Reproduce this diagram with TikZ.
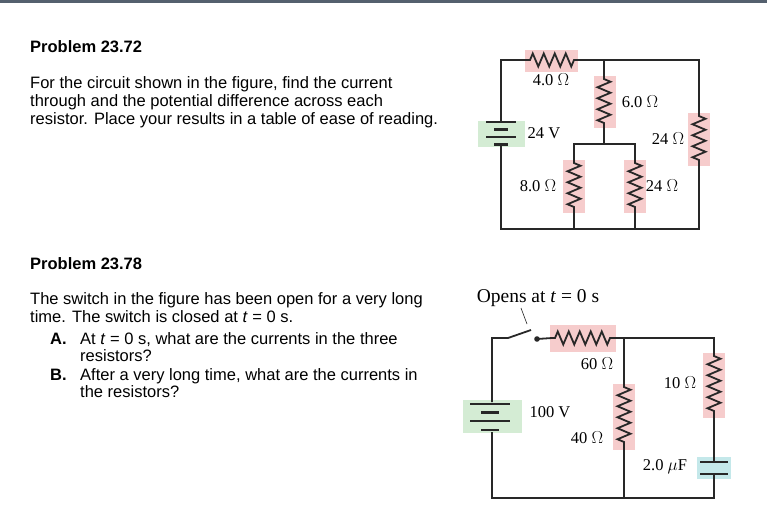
\documentclass[tikz,border=0pt]{standalone}
\usepackage{fontspec}
\setmainfont{Liberation Sans}
\newfontfamily\serif{Liberation Serif}
\usetikzlibrary{decorations.pathmorphing}
\definecolor{rpink}{RGB}{246,204,204}
\definecolor{bgreen}{RGB}{212,236,212}
\definecolor{ccyan}{RGB}{196,232,234}
\definecolor{topbar}{RGB}{84,96,110}
\definecolor{wire}{RGB}{40,40,40}
\begin{document}
\begin{tikzpicture}[x=1pt,y=-1pt,
  w/.style={draw=wire,line width=1.8},
  zz/.style={w,decorate,decoration={zigzag,segment length=11,amplitude=6.5,pre length=3,post length=3}},
  pbox/.style={fill=rpink,draw=none},
  lbl/.style={font=\serif\fontsize{16.5}{16.5}\selectfont,inner sep=0},
  txt/.style={font=\fontsize{16.5}{19}\selectfont,anchor=base west,inner sep=0},
  btxt/.style={txt,font=\bfseries\fontsize{16.5}{19}\selectfont}]
\useasboundingbox (0,0) rectangle (767,530);
\fill[white] (0,0) rectangle (767,530);
\fill[topbar] (0,0) rectangle (767,3);
% texts
\node[btxt] (p1) at (30,52) {Problem 23.72};
\node[txt] (t1) at (30,88) {For the circuit shown in the figure, find the current};
\node[txt] (t2) at (30,106) {through and the potential difference across each};
\node[txt] (t3) at (30,124) {resistor. Place your results in a table of ease of reading.};
\node[btxt] (p2) at (30,269) {Problem 23.78};
\node[txt] (t4) at (30,304) {The switch in the figure has been open for a very long};
\node[txt] (t5) at (30,322) {time. The switch is closed at \textit{t} = 0 s.};
\node[btxt] (a) at (50,344) {A.};
\node[txt] (t6) at (80,344) {At \textit{t} = 0 s, what are the currents in the three};
\node[txt] (t7) at (80,361) {resistors?};
\node[btxt] (b) at (50,380) {B.};
\node[txt] (t8) at (80,380) {After a very long time, what are the currents in};
\node[txt] (t9) at (80,397) {the resistors?};
% ---------- top circuit
\fill[pbox] (525,50) rectangle (578,72);
\fill[pbox] (594,76) rectangle (616,128);
\fill[pbox] (563,160) rectangle (585,213);
\fill[pbox] (624,160) rectangle (646,213);
\fill[pbox] (688,113) rectangle (710,166);
\fill[bgreen] (478,121) rectangle (525,147);
\draw[w] (501,121) -- (501,60) -- (527,60);
\draw[zz] (527,60) -- (578,60);
\draw[w] (578,60) -- (699,60) -- (699,113);
\draw[zz] (699,113) -- (699,166);
\draw[w] (699,166) -- (699,229) -- (501,229) -- (501,146);
\draw[w] (604,60) -- (604,76);
\draw[zz] (604,76) -- (604,128);
\draw[w] (604,128) -- (604,144) (574,160) -- (574,144) -- (635,144) -- (635,160);
\draw[zz] (574,160) -- (574,213);
\draw[zz] (635,160) -- (635,213);
\draw[w] (574,213) -- (574,229) (635,213) -- (635,229);
\draw[w] (486,122) -- (516,122) (486,137) -- (516,137);
\draw[w,line width=2.2] (494,129.5) -- (508,129.5) (494,144.5) -- (508,144.5);
\node[lbl] (l1) at (551,80) {4.0 $\Omega$};
\node[lbl] (l2) at (640,102) {6.0 $\Omega$};
\node[lbl] (l3) at (544,133) {24 V};
\node[lbl] (l4) at (668,139) {24 $\Omega$};
\node[lbl] (l5) at (538,186) {8.0 $\Omega$};
\node[lbl] (l6) at (662,186) {24 $\Omega$};
% ---------- bottom circuit
\fill[pbox] (550,325) rectangle (616,352);
\fill[pbox] (613,384) rectangle (635,450);
\fill[pbox] (703,353) rectangle (725,418);
\fill[ccyan] (697,457) rectangle (731,479);
\fill[bgreen] (463,400) rectangle (522,433);
\coordinate (sw) at (537,339);
\draw[w] (492,402) -- (492,338) -- (508,338) -- (531,330);
\fill[wire] (sw) circle (2.8);
\draw[w] (sw) -- (552,338);
\draw[zz] (552,338) -- (616,338);
\draw[w] (616,338) -- (714,338) -- (714,353);
\draw[zz] (714,353) -- (714,418);
\draw[w] (714,418) -- (714,462) (714,474) -- (714,498) -- (492,498) -- (492,432);
\draw[w] (624,338) -- (624,384) (624,450) -- (624,498);
\draw[zz] (624,384) -- (624,450);
\draw[w] (700,462) -- (728,462) (700,474) -- (728,474);
\draw[w] (470,404) -- (510,404) (470,421) -- (510,421);
\draw[w,line width=2.2] (481,412.5) -- (499,412.5) (481,430) -- (499,430);
\node[lbl,font=\serif\fontsize{19.5}{19.5}\selectfont] (op) at (538,298) {Opens at \textit{t} = 0 s};
\draw[wire,line width=0.6] (521,308) -- (527,324);
\node[lbl] (l7) at (597,364) {60 $\Omega$};
\node[lbl] (l8) at (680,383) {10 $\Omega$};
\node[lbl] (l9) at (550,412) {100 V};
\node[lbl] (l10) at (587,438) {40 $\Omega$};
\node[lbl] (l11) at (665,467) {2.0 $\mu$F};
\end{tikzpicture}
\end{document}
